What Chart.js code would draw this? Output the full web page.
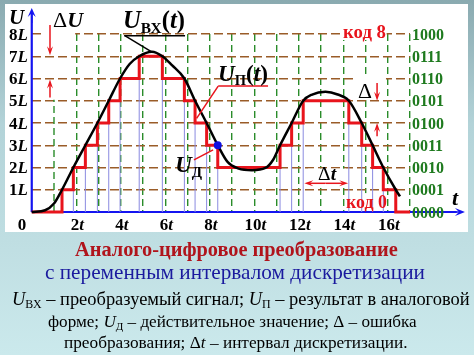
<!DOCTYPE html>
<html>
<head>
  <title>Аналого-цифровое преобразование</title>
  <script src="https://cdn.jsdelivr.net/npm/chart.js"></script>
  <style>
    body {
      margin: 0;
      background-color: #b9d9dd;
    }

    canvas {
      display: block;
    }
  </style>
</head>
<body>
  <canvas id="adc" width="474" height="355"></canvas>

  <script>
    // input signal U_вх(t), t in sampling steps, U in quantum levels L
    const inputT = [0, 0.6, 1.0, 1.36, 1.87, 2.41, 2.95, 3.46, 3.97, 4.4, 4.83, 5.4, 5.87, 6.3, 6.86, 7.34, 7.86, 8.36, 8.8, 9.3, 9.9, 10.5, 10.85, 11.16, 11.68, 12.2, 12.6, 13.2, 13.75, 14.25, 14.83, 15.32, 15.8, 16.36, 16.55];
    const inputU = [0, 0.08, 0.38, 1.0, 2, 3, 4, 5, 6, 6.65, 7.0, 7.2, 7.0, 6.6, 6.0, 5, 4, 3, 2.25, 1.95, 1.88, 1.98, 2.35, 3, 4, 5, 5.28, 5.4, 5.28, 5, 4, 3, 2, 1, 0.7];

    // quantized output U_П(t): level held from each switching moment
    const stepT = [0, 1.36, 1.87, 2.41, 2.95, 3.46, 3.97, 4.83, 5.87, 6.86, 7.34, 7.86, 8.36, 11.16, 11.68, 12.2, 14.25, 14.83, 15.32, 15.8, 16.36, 17];
    const stepU = [0, 1, 2, 3, 4, 5, 6, 7, 6, 5, 4, 3, 2, 3, 4, 5, 4, 3, 2, 1, 0, 0];

    // actual value U_Д marked on the curve
    const actualT = [8.36];
    const actualU = [3];

    const levelValues = [1, 2, 3, 4, 5, 6, 7, 8];
    const levelLabels = ['1L', '2L', '3L', '4L', '5L', '6L', '7L', '8L'];
    const codeLabels = ['0001', '0010', '0011', '0100', '0101', '0110', '0111', '1000'];
    const timeTicks = [2, 4, 6, 8, 10, 12, 14, 16];
    const timeLabels = ['2t', '4t', '6t', '8t', '10t', '12t', '14t', '16t'];

    const RED = '#e8141c';
    const BLUE = '#1414f0';
    const GREEN = '#2a8c2a';
    const BROWN = '#9a5c28';
    const SERIF = '"Liberation Serif", "Times New Roman", serif';

    function font(style, size) {
      return style + ' ' + size + 'px ' + SERIF;
    }

    // parts: [text, style, size, color, dy]
    function runsWidth(ctx, parts, k) {
      let w = 0;
      for (const p of parts) {
        ctx.font = font(p[1], p[2] * k);
        w += ctx.measureText(p[0]).width;
      }
      return w;
    }

    function drawRuns(ctx, parts, x, y, opts) {
      opts = opts || {};
      let k = 1;
      if (opts.width) k = opts.width / runsWidth(ctx, parts, 1);
      const w = runsWidth(ctx, parts, k);
      let cx = opts.align === 'center' ? x - w / 2 : opts.align === 'right' ? x - w : x;
      const left = cx;
      ctx.textAlign = 'left';
      ctx.textBaseline = 'alphabetic';
      for (const p of parts) {
        ctx.font = font(p[1], p[2] * k);
        ctx.fillStyle = p[3] || opts.color || '#000';
        ctx.fillText(p[0], cx, y + (p[4] || 0) * k);
        cx += ctx.measureText(p[0]).width;
      }
      return { left: left, width: w };
    }

    function arrow(ctx, x1, y1, x2, y2, color, len, half) {
      const a = Math.atan2(y2 - y1, x2 - x1);
      ctx.strokeStyle = color;
      ctx.fillStyle = color;
      ctx.lineWidth = 1.5;
      ctx.setLineDash([]);
      ctx.beginPath();
      ctx.moveTo(x1, y1);
      ctx.lineTo(x2 - Math.cos(a) * len * 0.6, y2 - Math.sin(a) * len * 0.6);
      ctx.stroke();
      ctx.beginPath();
      ctx.moveTo(x2, y2);
      ctx.lineTo(x2 - Math.cos(a) * len - Math.sin(a) * half, y2 - Math.sin(a) * len + Math.cos(a) * half);
      ctx.lineTo(x2 - Math.cos(a) * len * 0.6, y2 - Math.sin(a) * len * 0.6);
      ctx.lineTo(x2 - Math.cos(a) * len + Math.sin(a) * half, y2 - Math.sin(a) * len - Math.cos(a) * half);
      ctx.closePath();
      ctx.fill();
    }

    function line(ctx, x1, y1, x2, y2, color, width) {
      ctx.strokeStyle = color;
      ctx.lineWidth = width;
      ctx.setLineDash([]);
      ctx.beginPath();
      ctx.moveTo(x1, y1);
      ctx.lineTo(x2, y2);
      ctx.stroke();
    }

    function whiteBox(ctx, x1, y1, x2, y2) {
      ctx.fillStyle = '#ffffff';
      ctx.fillRect(Math.min(x1, x2), Math.min(y1, y2), Math.abs(x2 - x1), Math.abs(y2 - y1));
    }

    // thin sampling lines from the axis up to the lower of the two levels
    const sampleLines = [];
    for (let i = 1; i < stepT.length - 1; i++) {
      const h = Math.min(stepU[i - 1], stepU[i]);
      if (h > 0) {
        sampleLines.push({ x: stepT[i], y: 0 }, { x: stepT[i], y: h }, { x: stepT[i], y: null });
      }
    }

    const decor = {
      id: 'decor',
      beforeDraw(chart) {
        const ctx = chart.ctx;
        const g = ctx.createLinearGradient(0, 0, 0, chart.height);
        g.addColorStop(0, '#8aaab0');
        g.addColorStop(0.35, '#b3d3d8');
        g.addColorStop(1, '#cbe9ec');
        ctx.fillStyle = g;
        ctx.fillRect(0, 0, chart.width, chart.height);
        ctx.fillStyle = '#ffffff';
        ctx.fillRect(5, 4, 463, 228);
      },
      beforeDatasetsDraw(chart) {
        const ctx = chart.ctx;
        const X = v => chart.scales.x.getPixelForValue(v);
        const Y = v => chart.scales.y.getPixelForValue(v);
        ctx.save();

        // first time gridline only runs up to 5L
        ctx.strokeStyle = GREEN;
        ctx.lineWidth = 1.4;
        ctx.setLineDash([7, 4]);
        ctx.beginPath();
        ctx.moveTo(X(1), Y(0));
        ctx.lineTo(X(1), Y(5.05));
        ctx.stroke();

        // clear space behind labels
        whiteBox(ctx, X(0.5), Y(8.27), X(1.95), Y(7.73));
        whiteBox(ctx, X(13.95), Y(8.27), X(15.95), Y(7.73));
        whiteBox(ctx, X(14.08), Y(0.85), X(15.9), Y(0.1));
        whiteBox(ctx, X(14.53), Y(6.07), X(15.92), Y(5.08));
        whiteBox(ctx, X(12.42), Y(1.95), X(14.12), Y(1.17));

        // axes with arrows
        line(ctx, X(0), Y(0), X(0), Y(9.0), BLUE, 2.2);
        arrow(ctx, X(0), Y(8.5), X(0), Y(9.17), BLUE, 9, 4);
        line(ctx, X(0), Y(0), X(19.1), Y(0), BLUE, 2.2);
        arrow(ctx, X(18.6), Y(0), X(19.47), Y(0), BLUE, 10, 4);
        ctx.restore();
      },
      afterDatasetsDraw(chart) {
        const ctx = chart.ctx;
        const X = v => chart.scales.x.getPixelForValue(v);
        const Y = v => chart.scales.y.getPixelForValue(v);
        ctx.save();

        // level labels left, binary codes right
        levelValues.forEach((v, i) => {
          const num = levelLabels[i].slice(0, -1);
          drawRuns(ctx, [[num, 'bold', 17], ['L', 'bold italic', 17]], X(-0.17), Y(v) + 5.5, { align: 'right' });
          drawRuns(ctx, [[codeLabels[i], 'bold', 16, '#1e7a1e']], X(17.09), Y(v) + 5.5);
        });
        drawRuns(ctx, [['0000', 'bold', 16, '#1e7a1e']], X(17.09), Y(0) + 5.5);

        // time labels
        timeTicks.forEach((t, i) => {
          const num = timeLabels[i].slice(0, -1);
          drawRuns(ctx, [[num, 'bold', 17], ['t', 'bold italic', 17]], X(t) + 1, Y(0) + 18, { align: 'center' });
        });
        drawRuns(ctx, [['0', 'bold', 17]], X(-0.44), Y(0) + 18, { align: 'center' });

        // axis names
        drawRuns(ctx, [['U', 'bold italic', 21]], X(-1.02), Y(8.45));
        drawRuns(ctx, [['t', 'bold italic', 22]], X(18.89), Y(0.31));

        // code labels
        drawRuns(ctx, [['код 8', 'bold', 15, RED]], X(13.99), Y(7.8), { width: 43 });
        drawRuns(ctx, [['код 0', 'bold', 15, RED]], X(14.12), Y(0.18), { width: 41 });

        // ΔU quantum step
        arrow(ctx, X(0.82), Y(8.4), X(0.82), Y(7.05), RED, 9, 3);
        arrow(ctx, X(0.82), Y(5.15), X(0.82), Y(5.95), RED, 9, 3);
        drawRuns(ctx, [['Δ', '', 21], ['U', 'bold italic', 21]], X(0.96), Y(8.31), { width: 30 });

        // Δ conversion error
        arrow(ctx, X(15.52), Y(5.8), X(15.52), Y(5.0), RED, 9, 3);
        arrow(ctx, X(15.52), Y(3.4), X(15.52), Y(4.0), RED, 9, 3);
        drawRuns(ctx, [['Δ', '', 21]], X(14.66), Y(5.12), { width: 14 });

        // Δt sampling interval
        arrow(ctx, X(13.2), Y(1.29), X(12.25), Y(1.29), RED, 9, 3);
        arrow(ctx, X(13.2), Y(1.29), X(14.22), Y(1.29), RED, 9, 3);
        drawRuns(ctx, [['Δ', '', 20], ['t', 'bold italic', 20]], X(12.87), Y(1.44), { width: 18 });

        // U_вх(t) label with leader
        line(ctx, X(4.15), Y(7.92), X(6.89), Y(7.92), '#000', 1.5);
        line(ctx, X(4.2), Y(7.92), X(5.39), Y(7.2), '#000', 1.5);
        drawRuns(ctx, [['U', 'bold italic', 24], ['ВХ', 'bold', 15, null, 4.5], ['(', 'bold', 24], ['t', 'bold italic', 24], [')', 'bold', 24]], X(4.1), Y(8.27), { width: 62 });

        // U_П(t) label with leader
        line(ctx, X(8.38), Y(5.66), X(10.62), Y(5.66), RED, 1.5);
        line(ctx, X(8.38), Y(5.66), X(7.41), Y(4.21), RED, 1.5);
        drawRuns(ctx, [['U', 'bold italic', 24], ['П', 'bold', 15, null, 4.5], ['(', 'bold', 24], ['t', 'bold italic', 24], [')', 'bold', 24]], X(8.37), Y(5.89), { width: 50 });

        // U_Д label with leader
        line(ctx, X(7.29), Y(2.34), X(8.15), Y(2.79), RED, 1.5);
        drawRuns(ctx, [['U', 'bold italic', 23], ['Д', 'bold', 15, null, 5]], X(6.45), Y(1.8));

        // caption
        drawRuns(ctx, [['Аналого-цифровое преобразование', 'bold', 19, '#b0141c']], 75, 256, { width: 323 });
        drawRuns(ctx, [['с переменным интервалом дискретизации', '', 20, '#1a1a9e']], 45, 279, { width: 380 });
        drawRuns(ctx, [['U', 'italic', 17], ['ВХ', '', 11, null, 3], [' – преобразуемый сигнал; ', '', 17], ['U', 'italic', 17], ['П', '', 11, null, 3], [' – результат в аналоговой', '', 17]], 12, 305, { width: 458 });
        drawRuns(ctx, [['форме; ', '', 17], ['U', 'italic', 17], ['Д', '', 11, null, 3], [' – действительное значение; Δ – ошибка', '', 17]], 48, 327, { width: 369 });
        drawRuns(ctx, [['преобразования; Δ', '', 17], ['t', 'italic', 17], [' – интервал дискретизации.', '', 17]], 64, 348, { width: 344 });

        ctx.restore();
      }
    };

    const chart = new Chart(document.getElementById('adc').getContext('2d'), {
      type: 'line',
      data: {
        datasets: [
          {
            label: 'U_Д',
            type: 'scatter',
            data: actualT.map((t, i) => ({ x: t, y: actualU[i] })),
            pointRadius: 4,
            pointBackgroundColor: '#1010e0',
            pointBorderWidth: 0,
            order: -1,
            clip: false
          },
          {
            label: 'U_вх(t)',
            data: inputT.map((t, i) => ({ x: t, y: inputU[i] })),
            borderColor: '#000',
            borderWidth: 2.5,
            cubicInterpolationMode: 'monotone',
            pointRadius: 0,
            order: 0,
            clip: false
          },
          {
            label: 'U_П(t)',
            data: stepT.map((t, i) => ({ x: t, y: stepU[i] })),
            stepped: true,
            borderColor: RED,
            borderWidth: 3,
            pointRadius: 0,
            order: 1,
            clip: false
          },
          {
            label: 'samples',
            data: sampleLines,
            borderColor: '#8a8ae0',
            borderWidth: 1,
            pointRadius: 0,
            spanGaps: false,
            order: 2,
            clip: false
          }
        ]
      },
      options: {
        responsive: false,
        animation: false,
        events: [],
        layout: {
          autoPadding: false,
          padding: { left: 31.75, right: 64, top: 34, bottom: 143 }
        },
        plugins: {
          legend: { display: false },
          tooltip: { enabled: false }
        },
        scales: {
          x: {
            type: 'linear',
            min: 0,
            max: 17,
            ticks: { display: false, stepSize: 1 },
            grid: {
              color: c => c.tick.value > 1 ? GREEN : 'rgba(0,0,0,0)',
              lineWidth: 1.4,
              drawTicks: false
            },
            border: { display: false, dash: [7, 4] },
            afterFit: s => { s.height = 0; }
          },
          y: {
            min: 0,
            max: 8,
            ticks: { display: false, stepSize: 1 },
            grid: {
              color: c => c.tick.value > 0 ? BROWN : 'rgba(0,0,0,0)',
              lineWidth: 1.4,
              drawTicks: false
            },
            border: { display: false, dash: [9, 4] },
            afterFit: s => { s.height = s.height; s.width = 0; }
          }
        }
      },
      plugins: [decor]
    });
  </script>
</body>
</html>
